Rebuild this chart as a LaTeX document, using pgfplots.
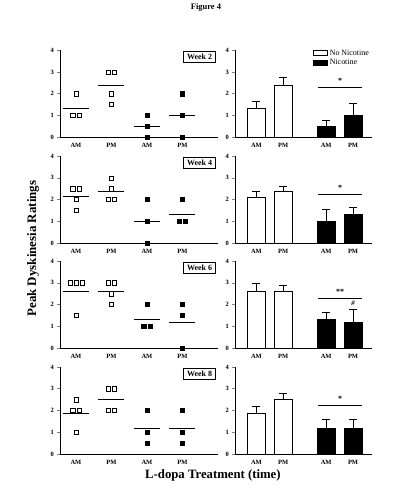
\documentclass[border=0pt]{standalone}
\usepackage{fontspec}
\setmainfont{Liberation Serif}
\usepackage{pgfplots}
\pgfplotsset{compat=1.18}
\tikzset{
  weekbox/.style={draw, line width=0.6pt, fill=white, font=\bfseries\fontsize{8}{9}\selectfont, inner xsep=3.5pt, inner ysep=2.5pt, anchor=north east},
  startxt/.style={font=\bfseries\fontsize{8}{9}\selectfont, anchor=south},
}
\pgfplotsset{
  fig/.style={scale only axis, height=87bp, ymin=0, ymax=4, ytick={0,1,2,3,4},
    axis x line=bottom, axis y line=left, axis line style={-, line width=0.6pt},
    tick align=outside, major tick length=2.5bp, xtick style={draw=none},
    ytick style={line width=0.6pt},
    tick label style={font=\bfseries\fontsize{6.5}{7}\selectfont},
    /pgf/number format/assume math mode=true, clip=false},
  leftp/.style={fig, width=158bp, xmin=0.55, xmax=5.0, xtick={1,2,3,4}, xticklabels={AM,PM,AM,PM}},
  rightp/.style={fig, width=137bp, xmin=0.2, xmax=5.3, xtick={1,2,3.6,4.6}, xticklabels={AM,PM,AM,PM}},
  openpts/.style={only marks, mark=square, mark size=2.1bp, mark options={black, fill=white, line width=0.5pt}},
  fillpts/.style={only marks, mark=square*, mark size=2.1bp, mark options={black, fill=black, line width=0.5pt}},
  meanline/.style={only marks, mark=-, mark size=13bp, mark options={black, line width=0.9pt}},
  barsty/.style={ybar, bar width=18bp, bar shift=0pt, draw=black, line width=0.6pt,
    error bars/y dir=plus, error bars/y explicit, error bars/error mark=-, 
    error bars/error mark options={rotate=90, mark size=4bp, line width=0.6pt}, error bars/error bar style={line width=0.6pt}},
  wbar/.style={barsty, fill=white, legend image code/.code={\draw[fill=white, draw=black, line width=0.6pt] (0bp,-2.5bp) rectangle (14bp,2.5bp);}},
  bbar/.style={barsty, fill=black, legend image code/.code={\draw[fill=black, draw=black, line width=0.6pt] (0bp,-2.5bp) rectangle (14bp,2.5bp);}},
  sigline/.style={black, line width=0.7pt, forget plot},
}
\begin{document}
\begin{tikzpicture}
\path (0bp,0bp) rectangle (414bp,500bp);
\node[font=\bfseries\fontsize{8.5}{10}\selectfont] at (206bp,493bp) {Figure 4};
\node[rotate=90, font=\bfseries\fontsize{13}{15}\selectfont] at (33bp,251.5bp) {Peak Dyskinesia Ratings};
\node[font=\bfseries\fontsize{12.8}{15}\selectfont] at (213bp,25bp) {L-dopa Treatment (time)};

% ---------- Week 2 ----------
\begin{axis}[leftp, at={(60bp,363bp)}, anchor=south west]
\addplot[openpts] coordinates {(1,2) (0.91,1) (1.09,1) (1.91,3) (2.09,3) (2,2) (2,1.5)};
\addplot[fillpts] coordinates {(3,1) (3,0.5) (3,0) (4,2) (4,1) (4,0)};
\addplot[meanline] coordinates {(1,1.333) (2,2.375) (3,0.5) (4,1.0)};
\node[weekbox] at (rel axis cs:0.987,0.99) {Week 2};
\end{axis}
\begin{axis}[rightp, at={(235bp,363bp)}, anchor=south west,
  legend style={draw=none, fill=none, at={(0.57,1.03)}, anchor=north west,
  font=\fontsize{8}{9}\selectfont, row sep=-1pt, inner sep=0pt}, legend cell align=left]
\addplot[wbar] coordinates {(1,1.333) +- (0,0.333) (2,2.375) +- (0,0.375)};
\addlegendentry{No Nicotine}
\addplot[bbar] coordinates {(3.6,0.5) +- (0,0.289) (4.6,1.0) +- (0,0.577)};
\addlegendentry{Nicotine}
\addplot[sigline] coordinates {(3.3,2.3) (4.95,2.3)};
\node[startxt] at (axis cs:4.12,2.3) {*};
\end{axis}

% ---------- Week 4 ----------
\begin{axis}[leftp, at={(60bp,257bp)}, anchor=south west]
\addplot[openpts] coordinates {(0.91,2.5) (1.09,2.5) (1,2) (1,1.5) (2,3) (2,2.5) (1.91,2) (2.09,2)};
\addplot[fillpts] coordinates {(3,2) (3,1) (3,0) (4,2) (3.91,1) (4.09,1)};
\addplot[meanline] coordinates {(1,2.125) (2,2.375) (3,1.0) (4,1.333)};
\node[weekbox] at (rel axis cs:0.987,0.99) {Week 4};
\end{axis}
\begin{axis}[rightp, at={(235bp,257bp)}, anchor=south west]
\addplot[wbar] coordinates {(1,2.125) +- (0,0.239) (2,2.375) +- (0,0.239)};
\addplot[bbar] coordinates {(3.6,1.0) +- (0,0.577) (4.6,1.333) +- (0,0.333)};
\addplot[sigline] coordinates {(3.3,2.25) (4.95,2.25)};
\node[startxt] at (axis cs:4.12,2.25) {*};
\end{axis}

% ---------- Week 6 ----------
\begin{axis}[leftp, at={(60bp,152bp)}, anchor=south west]
\addplot[openpts] coordinates {(0.83,3) (1,3) (1.17,3) (1,1.5) (1.91,3) (2.09,3) (2,2.5) (2,2)};
\addplot[fillpts] coordinates {(3,2) (2.91,1) (3.09,1) (4,2) (4,1.5) (4,0)};
\addplot[meanline] coordinates {(1,2.625) (2,2.625) (3,1.333) (4,1.167)};
\node[weekbox] at (rel axis cs:0.987,0.99) {Week 6};
\end{axis}
\begin{axis}[rightp, at={(235bp,152bp)}, anchor=south west]
\addplot[wbar] coordinates {(1,2.625) +- (0,0.375) (2,2.625) +- (0,0.239)};
\addplot[bbar] coordinates {(3.6,1.333) +- (0,0.333) (4.6,1.167) +- (0,0.601)};
\addplot[sigline] coordinates {(3.3,2.3) (4.95,2.3)};
\node[startxt] at (axis cs:4.12,2.3) {**};
\node[font=\bfseries\itshape\fontsize{7}{8}\selectfont, anchor=south] at (axis cs:4.6,1.8) {\#};
\end{axis}

% ---------- Week 8 ----------
\begin{axis}[leftp, at={(60bp,46bp)}, anchor=south west]
\addplot[openpts] coordinates {(1,2.5) (0.91,2) (1.09,2) (1,1) (1.91,3) (2.09,3) (1.91,2) (2.09,2)};
\addplot[fillpts] coordinates {(3,2) (3,1) (3,0.5) (4,2) (4,1) (4,0.5)};
\addplot[meanline] coordinates {(1,1.875) (2,2.5) (3,1.167) (4,1.167)};
\node[weekbox] at (rel axis cs:0.987,0.99) {Week 8};
\end{axis}
\begin{axis}[rightp, at={(235bp,46bp)}, anchor=south west]
\addplot[wbar] coordinates {(1,1.875) +- (0,0.315) (2,2.5) +- (0,0.289)};
\addplot[bbar] coordinates {(3.6,1.167) +- (0,0.441) (4.6,1.167) +- (0,0.441)};
\addplot[sigline] coordinates {(3.3,2.25) (4.95,2.25)};
\node[startxt] at (axis cs:4.12,2.25) {*};
\end{axis}
\end{tikzpicture}
\end{document}
